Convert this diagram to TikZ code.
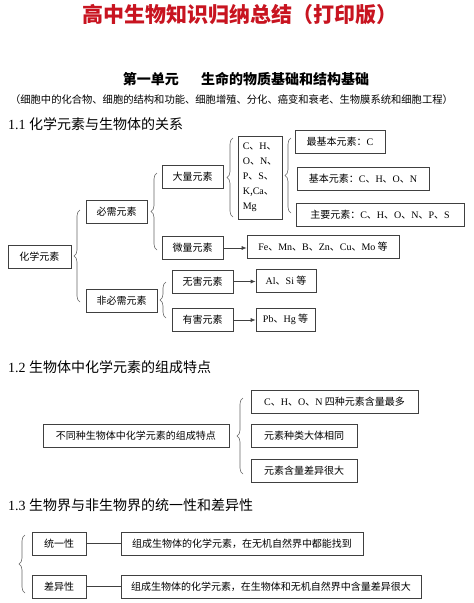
\documentclass[tikz,border=0pt]{standalone}
\usepackage{fontspec}
\setmainfont{Liberation Serif}
\newfontfamily\cjk{Noto Sans CJK SC}
\usetikzlibrary{decorations.pathreplacing, arrows.meta}

\definecolor{titlered}{RGB}{200,20,32}
\newcommand{\lat}[1]{{\rmfamily #1}}

\tikzset{
  box/.style={draw=black!75, line width=0.7pt, inner sep=0pt, minimum height=23pt,
    font=\fontsize{10}{12}\selectfont\cjk},
  curly/.style={decorate, decoration={brace, amplitude=6pt}, draw=black!60, line width=0.6pt},
  heading/.style={anchor=west, inner sep=0pt, font=\fontsize{14}{16}\selectfont},
  link/.style={draw=black!75, line width=0.7pt},
}

\begin{document}
\begin{tikzpicture}[x=1pt, y=-1pt]
\useasboundingbox[fill=white] (0,0) rectangle (474,603);

% Titles
\node[font=\fontsize{21}{24}\selectfont\cjk\bfseries, text=titlered] (title) at (240,15) {高中生物知识归纳总结（打印版）};
\node[font=\fontsize{14}{16}\selectfont\cjk\bfseries] (unit) at (246,79) {第一单元\hspace{1.6em}生命的物质基础和结构基础};
\node[font=\fontsize{10.3}{12}\selectfont\cjk] (scope) at (231.5,100) {（细胞中的化合物、细胞的结构和功能、细胞增殖、分化、癌变和衰老、生物膜系统和细胞工程）};

% 1.1
\node[heading] (h1) at (8,124) {1.1 {\cjk 化学元素与生物体的关系}};

\node[box, minimum width=63pt] (hx) at (39.5,256.5) {化学元素};
\node[box, minimum width=61pt] (bx) at (116.5,212) {必需元素};
\node[box, minimum width=71pt] (fb) at (121.5,300.5) {非必需元素};
\node[box, minimum width=61pt] (dl) at (192.5,176.5) {大量元素};
\node[box, minimum width=61pt] (wl) at (192.5,248) {微量元素};
\node[box, minimum width=61pt] (wh) at (202.5,281.5) {无害元素};
\node[box, minimum width=61pt] (yh) at (202.5,320) {有害元素};
\node[box, minimum width=44pt, minimum height=83pt, align=left,
  font=\fontsize{10}{15}\selectfont\cjk] (ys) at (260,177.5)
  {\lat{C}、\lat{H}、\\\lat{O}、\lat{N}、\\\lat{P}、\lat{S}、\\\lat{K},\lat{Ca}、\\\lat{Mg}};
\node[box, minimum width=90pt] (zj) at (340,141.5) {最基本元素：\lat{C}};
\node[box, minimum width=132pt] (jb) at (363,178.5) {基本元素：\lat{C}、\lat{H}、\lat{O}、\lat{N}};
\node[box, minimum width=168pt] (zy) at (380,214.5) {主要元素：\lat{C}、\lat{H}、\lat{O}、\lat{N}、\lat{P}、\lat{S}};
\node[box, minimum width=152pt] (fe) at (323,247) {\lat{Fe}、\lat{Mn}、\lat{B}、\lat{Zn}、\lat{Cu}、\lat{Mo} 等};
\node[box, minimum width=60pt] (al) at (286,280.5) {\lat{Al}、\lat{Si} 等};
\node[box, minimum width=59pt] (pb) at (285.5,319.5) {\lat{Pb}、\lat{Hg} 等};

\draw[curly] (80,302) -- (80,210);
\draw[curly] (157,250) -- (157,173);
\draw[curly] (166,318) -- (166,282);
\draw[curly] (233,217) -- (233,138);
\draw[curly] (291,213) -- (291,138);

\draw[link, -{Latex[length=5pt, width=4pt]}] (wl.east) -- (wl.east -| fe.west);
\draw[link, -{Latex[length=5pt, width=4pt]}] (wh.east) -- (wh.east -| al.west);
\draw[link, -{Latex[length=5pt, width=4pt]}] (yh.east) -- (yh.east -| pb.west);

% 1.2
\node[heading] (h2) at (8,367) {1.2 {\cjk 生物体中化学元素的组成特点}};

\node[box, minimum width=186pt] (ts) at (136,436) {不同种生物体中化学元素的组成特点};
\node[box, minimum width=167pt] (t1) at (334.5,402) {\lat{C}、\lat{H}、\lat{O}、\lat{N} 四种元素含量最多};
\node[box, minimum width=106pt] (t2) at (304,435.5) {元素种类大体相同};
\node[box, minimum width=106pt] (t3) at (304,470.5) {元素含量差异很大};

\draw[curly] (243,474) -- (243,398);

% 1.3
\node[heading] (h3) at (8,505) {1.3 {\cjk 生物界与非生物界的统一性和差异性}};

\node[box, minimum width=54pt] (ty) at (59,543.5) {统一性};
\node[box, minimum width=54pt] (cy) at (59,586.5) {差异性};
\node[box, minimum width=242pt] (tyd) at (242,543.5) {组成生物体的化学元素，在无机自然界中都能找到};
\node[box, minimum width=300pt] (cyd) at (271,586.5) {组成生物体的化学元素，在生物体和无机自然界中含量差异很大};

\draw[curly] (25,593) -- (25,535);
\draw[link] (ty) -- (tyd);
\draw[link] (cy) -- (cyd);

\end{tikzpicture}
\end{document}
